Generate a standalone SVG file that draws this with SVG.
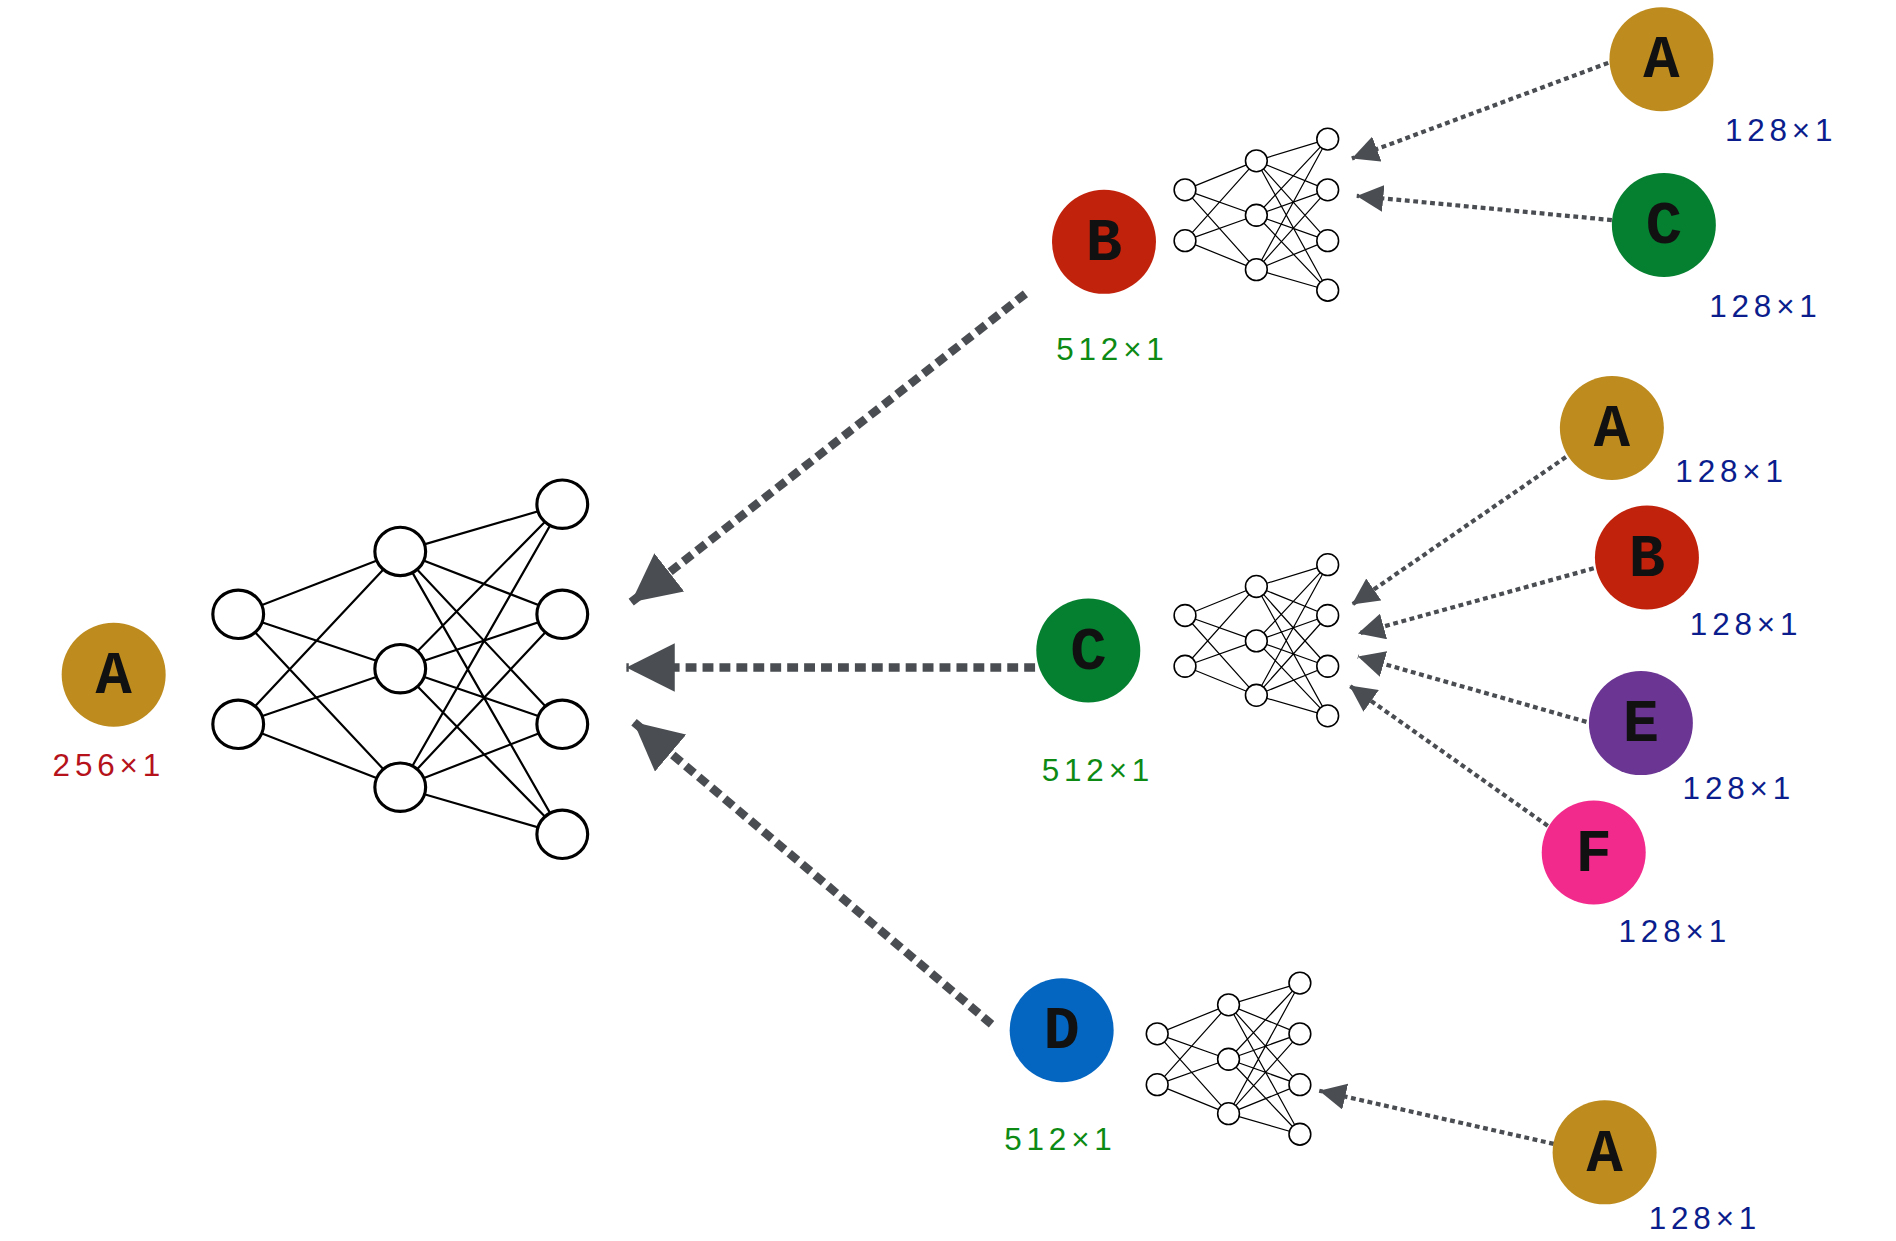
<svg xmlns="http://www.w3.org/2000/svg" width="1896" height="1241" viewBox="0 0 1896 1241">
<style>
.node text{font-family:"Liberation Mono","DejaVu Sans Mono",monospace;font-weight:bold;font-size:50px;text-anchor:middle;fill:#111}
.node text.lbl{font-family:"Liberation Sans","DejaVu Sans",sans-serif;font-weight:normal;font-size:26px;letter-spacing:4px;text-anchor:middle}
.node text.blue{fill:#0b1d8c}.node text.green{fill:#0d8a14}.node text.red{fill:#b5121b}
.nn{fill:#fff;stroke:#000}
.big{stroke:#4a4d52;stroke-width:7;stroke-dasharray:9 5;fill:none}
.small{stroke:#4a4d52;stroke-width:3.5;stroke-dasharray:4 3;fill:none}
</style>
<defs>
<marker id="hb" markerUnits="userSpaceOnUse" markerWidth="44" markerHeight="40" refX="40" refY="20" orient="auto"><path d="M0 0L40 20L0 40Z" fill="#4a4d52"/></marker>
<marker id="hs" markerUnits="userSpaceOnUse" markerWidth="24" markerHeight="22" refX="22" refY="11" orient="auto"><path d="M0 0L22 11L0 22Z" fill="#4a4d52"/></marker>
<g id="snn">
<path fill="none" stroke="#000" stroke-width="1" d="M0 42L59 18M0 42L59 63M0 42L59 108M0 84L59 18M0 84L59 63M0 84L59 108M59 18L118 0M59 18L118 42M59 18L118 84M59 18L118 125M59 63L118 0M59 63L118 42M59 63L118 84M59 63L118 125M59 108L118 0M59 108L118 42M59 108L118 84M59 108L118 125"/>
<g class="nn" stroke-width="1.3"><circle cx="0" cy="42" r="9"/><circle cx="0" cy="84" r="9"/><circle cx="59" cy="18" r="9"/><circle cx="59" cy="63" r="9"/><circle cx="59" cy="108" r="9"/><circle cx="118" cy="0" r="9"/><circle cx="118" cy="42" r="9"/><circle cx="118" cy="84" r="9"/><circle cx="118" cy="125" r="9"/></g>
</g>
</defs>
<rect width="1896" height="1241" fill="#fff"/>
<g transform="scale(1.2092)">
<g id="bignn">
<path fill="none" stroke="#000" stroke-width="1.8" d="M197 508L331 456M197 508L331 553M197 508L331 651M197 599L331 456M197 599L331 553M197 599L331 651M331 456L465 417M331 456L465 508M331 456L465 599M331 456L465 690M331 553L465 417M331 553L465 508M331 553L465 599M331 553L465 690M331 651L465 417M331 651L465 508M331 651L465 599M331 651L465 690"/>
<g class="nn" stroke-width="2.6"><ellipse cx="197" cy="508" rx="21" ry="20"/><ellipse cx="197" cy="599" rx="21" ry="20"/><ellipse cx="331" cy="456" rx="21" ry="20"/><ellipse cx="331" cy="553" rx="21" ry="20"/><ellipse cx="331" cy="651" rx="21" ry="20"/><ellipse cx="465" cy="417" rx="21" ry="20"/><ellipse cx="465" cy="508" rx="21" ry="20"/><ellipse cx="465" cy="599" rx="21" ry="20"/><ellipse cx="465" cy="690" rx="21" ry="20"/></g>
</g>
<g id="nnB"><use href="#snn" x="980" y="115"/></g>
<g id="nnC"><use href="#snn" x="980" y="467"/></g>
<g id="nnD"><use href="#snn" x="957" y="813"/></g>
<g id="connectors">
<line class="big" x1="848" y1="243" x2="522" y2="498" marker-end="url(#hb)"/>
<line class="big" x1="856" y1="552" x2="518" y2="552" marker-end="url(#hb)"/>
<line class="big" x1="820" y1="847" x2="524" y2="597" marker-end="url(#hb)"/>
<line class="small" x1="1330" y1="52" x2="1118" y2="131" marker-end="url(#hs)"/>
<line class="small" x1="1333" y1="182" x2="1122" y2="162" marker-end="url(#hs)"/>
<line class="small" x1="1295" y1="378" x2="1118" y2="500" marker-end="url(#hs)"/>
<line class="small" x1="1318" y1="470" x2="1123" y2="524" marker-end="url(#hs)"/>
<line class="small" x1="1312" y1="597" x2="1123" y2="543" marker-end="url(#hs)"/>
<line class="small" x1="1280" y1="683" x2="1116" y2="567" marker-end="url(#hs)"/>
<line class="small" x1="1285" y1="946" x2="1091" y2="902" marker-end="url(#hs)"/>
</g>
<g id="nodeA0" class="node"><circle cx="94" cy="558" r="43" fill="#bd8b1e"/><text x="94" y="573">A</text><text class="lbl red" x="90" y="642">256×1</text></g>
<g id="nodeB" class="node"><circle cx="913" cy="200" r="43" fill="#c1220c"/><text x="913" y="215">B</text><text class="lbl green" x="920" y="298">512×1</text></g>
<g id="nodeC" class="node"><circle cx="900" cy="538" r="43" fill="#058030"/><text x="900" y="553">C</text><text class="lbl green" x="908" y="646">512×1</text></g>
<g id="nodeD" class="node"><circle cx="878" cy="852" r="43" fill="#0566c1"/><text x="878" y="867">D</text><text class="lbl green" x="877" y="951">512×1</text></g>
<g id="nodeA1" class="node"><circle cx="1374" cy="49" r="43" fill="#bd8b1e"/><text x="1374" y="64">A</text><text class="lbl blue" x="1473" y="117">128×1</text></g>
<g id="nodeC1" class="node"><circle cx="1376" cy="186" r="43" fill="#058030"/><text x="1376" y="201">C</text><text class="lbl blue" x="1460" y="262">128×1</text></g>
<g id="nodeA2" class="node"><circle cx="1333" cy="354" r="43" fill="#bd8b1e"/><text x="1333" y="369">A</text><text class="lbl blue" x="1432" y="399">128×1</text></g>
<g id="nodeB2" class="node"><circle cx="1362" cy="461" r="43" fill="#c1220c"/><text x="1362" y="476">B</text><text class="lbl blue" x="1444" y="525">128×1</text></g>
<g id="nodeE2" class="node"><circle cx="1357" cy="598" r="43" fill="#6a3593"/><text x="1357" y="613">E</text><text class="lbl blue" x="1438" y="661">128×1</text></g>
<g id="nodeF2" class="node"><circle cx="1318" cy="705" r="43" fill="#f22a8b"/><text x="1318" y="720">F</text><text class="lbl blue" x="1385" y="779">128×1</text></g>
<g id="nodeA3" class="node"><circle cx="1327" cy="953" r="43" fill="#bd8b1e"/><text x="1327" y="968">A</text><text class="lbl blue" x="1410" y="1016">128×1</text></g>
</g>
</svg>
